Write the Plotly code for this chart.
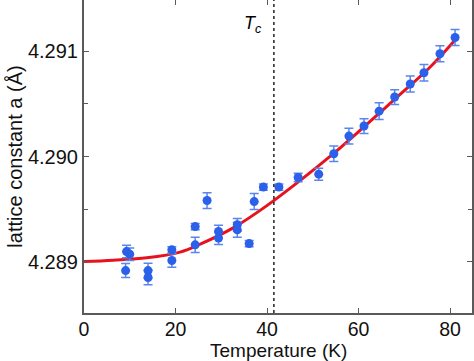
import plotly.graph_objects as go

# measured data (Temperature in K, lattice constant in Å)
temperature = [9.1, 9.3, 10.0, 14.0, 14.0, 19.2, 19.2, 24.3, 24.3, 26.9, 29.4, 29.4,
               33.5, 33.5, 36.1, 37.2, 39.2, 42.6, 46.8, 51.3, 54.6, 57.9, 61.2,
               64.5, 67.9, 71.3, 74.3, 77.8, 81.1]
lattice = [4.288914, 4.289095, 4.289070, 4.288914, 4.288848, 4.289111, 4.289010,
           4.289333, 4.289159, 4.289581, 4.289286, 4.289223, 4.289350, 4.289302,
           4.289171, 4.289571, 4.289709, 4.289709, 4.289800, 4.289832, 4.290026,
           4.290194, 4.290290, 4.290432, 4.290566, 4.290690, 4.290797, 4.290978,
           4.291133]
lattice_err = [0.000067, 0.00006, 0.00006, 0.00007, 0.00007, 0.00003, 0.000064,
               0.00003, 0.000073, 0.000075, 0.00006, 0.00006, 0.00006, 0.00007,
               0.00003, 0.000076, 0.00003, 0.00003, 0.00004, 0.000057, 0.000073,
               0.000076, 0.00007, 0.00008, 0.00007, 0.000076, 0.000078, 0.000076,
               0.000076]

# fit curve
fit_T = [0.0, 6.4, 13.7, 21.0, 25.4, 32.6, 39.9, 47.2, 54.3, 61.0, 68.3, 75.6, 81.2]
fit_a = [4.289000, 4.289013, 4.289035, 4.289090, 4.289165, 4.289320, 4.289530,
         4.289770, 4.290020, 4.290275, 4.290560, 4.290850, 4.291115]

Tc = 41.5
x_ticks = [0, 20, 40, 60, 80]
y_ticks = [4.289, 4.290, 4.291]
y_tick_text = ["4.289", "4.290", "4.291"]

FONT = "Liberation Sans, Arial, sans-serif"
AX = "#5a5a5a"

fig = go.Figure()
fig.add_trace(go.Scatter(
    x=fit_T, y=fit_a, mode="lines", line=dict(color="#e8121e", width=3, shape="spline"),
    showlegend=False, hoverinfo="skip"))
fig.add_trace(go.Scatter(
    x=temperature, y=lattice, mode="markers",
    marker=dict(color="#2b60ea", size=9),
    error_y=dict(type="data", array=lattice_err, color="#5a86ec", thickness=1.5, width=4.5),
    showlegend=False))
# hidden trace for top ticks
fig.add_trace(go.Scatter(x=[0], y=[4.289], xaxis="x2", mode="markers",
                         marker=dict(opacity=0), showlegend=False, hoverinfo="skip"))

fig.add_shape(type="line", x0=Tc, x1=Tc, y0=0, y1=1, xref="x", yref="paper",
              line=dict(color="#222222", width=1.5, dash="dot"))
fig.add_annotation(x=36.9, y=4.29126, xref="x", yref="y",
                   text="<i>T</i><sub><i>c</i></sub>", showarrow=False,
                   font=dict(family=FONT, size=18, color="black"))

# axis titles as annotations
fig.add_annotation(x=0.5, y=-0.081, xref="paper", yref="paper", yanchor="top",
                   text="Temperature (K)", showarrow=False,
                   font=dict(family=FONT, size=19, color="#111111"))
fig.add_annotation(x=-0.18, y=0.5, xref="paper", yref="paper", xanchor="center",
                   text="lattice constant a (Å)", textangle=-90, showarrow=False,
                   font=dict(family=FONT, size=20, color="#111111"))

fig.update_layout(
    width=474, height=361,
    margin=dict(l=84, r=2, t=0, b=48),
    paper_bgcolor="white", plot_bgcolor="white",
    font=dict(family=FONT, size=20, color="#111111"),
    xaxis=dict(range=[0, 84.8], tickvals=x_ticks, ticks="inside", ticklen=5,
               tickcolor=AX, tickwidth=1, showline=True, linecolor=AX, linewidth=2,
               showgrid=False, zeroline=False, mirror=False, automargin=False,
               ticklabelstandoff=-2, tickfont=dict(size=19.5)),
    xaxis2=dict(range=[0, 84.8], tickvals=x_ticks, overlaying="x", side="top",
                ticks="inside", ticklen=5, tickcolor=AX, showticklabels=False,
                showline=False, showgrid=False, zeroline=False, automargin=False),
    yaxis=dict(range=[4.28851, 4.29149], tickvals=y_ticks, ticktext=y_tick_text,
               ticks="inside", ticklen=5, tickcolor=AX, tickwidth=1,
               showline=True, linecolor=AX, linewidth=2, mirror="ticks",
               showgrid=False, zeroline=False, automargin=False,
               minor=dict(ticks="inside", dtick=0.0005, tick0=4.2885, ticklen=4, tickcolor=AX),
               tickfont=dict(size=20)),
)

fig.write_html("out.html", config={"displayModeBar": False},
               post_script="document.body.style.margin='0';document.body.style.overflow='hidden';")
